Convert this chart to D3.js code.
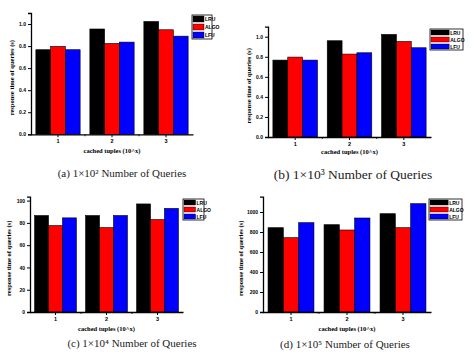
<!DOCTYPE html>
<html><head><meta charset="utf-8">
<script src="https://cdn.jsdelivr.net/npm/d3@7"></script>
<style>body{margin:0;background:#fff}svg{display:block}</style>
</head><body>
<svg id="c" width="474" height="357"></svg>
<script>
const categories = ["1", "2", "3"];
const seriesNames = ["LRU", "ALGO", "LFU"];
const colors = ["#000000", "#ff0000", "#0000ff"];
// values per panel: [series][category]
const valuesA = [[0.767, 0.955, 1.023], [0.797, 0.824, 0.948], [0.767, 0.836, 0.89]];
const valuesB = [[0.767, 0.96, 1.023], [0.797, 0.827, 0.953], [0.767, 0.84, 0.89]];
const valuesC = [[86.6, 86.6, 97], [77.6, 75.8, 83], [84.5, 86.6, 93]];
const valuesD = [[843, 873, 983], [743, 820, 843], [893, 940, 1083]];
const ticksA = [0, 0.2, 0.4, 0.6, 0.8, 1.0];
const ticksC = [0, 20, 40, 60, 80, 100];
const ticksD = [0, 200, 400, 600, 800, 1000];
const captions = ["(a) 1\u00d710\u00b2 Number of Queries", "(b) 1\u00d710\u00b3 Number of Queries",
                  "(c) 1\u00d710\u2074 Number of Queries", "(d) 1\u00d710\u2075 Number of Queries"];
const yLabel = "response time of queries (s)";
const xLabel = "cached tuples (10^x)";

const svg = d3.select("#c");

const panels = [
  {vals: valuesA, ticks: ticksA, fmt: d3.format(".1f"), max: 1.1, x0: 31, x1: 193, yT: 13, yB: 134.3,
   leg: [192, 15, 20, 24], ylx: 14, xly: 153, cap: captions[0], capx: 122, capy: 177, capfs: 11},
  {vals: valuesB, ticks: ticksA, fmt: d3.format(".1f"), max: 1.1, x0: 268, x1: 431, yT: 26.7, yB: 137,
   leg: [430, 29, 33, 21], ylx: 251, xly: 154, cap: captions[1], capx: 353, capy: 179, capfs: 13.5},
  {vals: valuesC, ticks: ticksC, fmt: d3.format("d"), max: 103.5, x0: 30, x1: 183, yT: 196.7, yB: 312,
   leg: [183, 199, 21, 21], ylx: 11, xly: 331, cap: captions[2], capx: 132, capy: 347, capfs: 11},
  {vals: valuesD, ticks: ticksD, fmt: d3.format("d"), max: 1153, x0: 263, x1: 431, yT: 196.7, yB: 312,
   leg: [429, 199, 33, 21], ylx: 243, xly: 331, cap: captions[3], capx: 345, capy: 348, capfs: 11}
];

panels.forEach(p => {
  const g = svg.append("g");
  const x = d3.scaleBand().domain(categories).range([p.x0, p.x1]).paddingInner(0.18).paddingOuter(0.09);
  const xs = d3.scaleBand().domain(seriesNames).range([0, x.bandwidth()]);
  const y = d3.scaleLinear().domain([0, p.max]).range([p.yB, p.yT]);

  // bars
  seriesNames.forEach((s, si) => {
    g.selectAll(null).data(categories).enter().append("rect")
      .attr("x", c => x(c) + xs(s))
      .attr("y", (c, ci) => y(p.vals[si][ci]))
      .attr("width", xs.bandwidth())
      .attr("height", (c, ci) => y(0) - y(p.vals[si][ci]))
      .attr("fill", colors[si])
      .attr("stroke", "#000").attr("stroke-width", 0.6);
  });

  // y axis
  const ya = g.append("g").attr("transform", `translate(${p.x0},0)`)
    .call(d3.axisLeft(y).tickValues(p.ticks).tickFormat(p.fmt).tickSize(3).tickPadding(2));
  ya.select(".domain").attr("stroke-width", 1.3);
  ya.selectAll("line").attr("stroke-width", 1);
  ya.selectAll("text").attr("font-family", "Liberation Sans, Arial").attr("font-size", 5).attr("font-weight", "bold");

  // x axis
  const xa = g.append("g").attr("transform", `translate(0,${p.yB})`)
    .call(d3.axisBottom(x).tickSize(3).tickPadding(2).tickSizeOuter(0));
  xa.select(".domain").attr("stroke-width", 1.3);
  xa.selectAll("text").attr("font-family", "Liberation Sans, Arial").attr("font-size", 5.5).attr("font-weight", "bold");
  // minor ticks at band boundaries
  const bounds = categories.slice(1).map(c => x(c) - x.step() * x.paddingInner() / 2);
  xa.selectAll(null).data(bounds).enter().append("line")
    .attr("x1", d => d).attr("x2", d => d).attr("y1", 0).attr("y2", 2)
    .attr("stroke", "#000").attr("stroke-width", 0.8);

  // axis labels
  g.append("text").attr("x", (p.x0 + p.x1) / 2).attr("y", p.xly)
    .attr("text-anchor", "middle").attr("font-family", "Liberation Serif, Times New Roman")
    .attr("font-size", 6.5).attr("font-weight", "bold").text(xLabel);
  g.append("text").attr("transform", `translate(${p.ylx},${(p.yT + p.yB) / 2 + 4}) rotate(-90)`)
    .attr("text-anchor", "middle").attr("font-family", "Liberation Serif, Times New Roman")
    .attr("font-size", 6.5).attr("font-weight", "bold").text(yLabel);

  // legend
  const [lx, ly, lw, lh] = p.leg;
  const lg = g.append("g");
  lg.append("rect").attr("x", lx).attr("y", ly).attr("width", lw).attr("height", lh)
    .attr("fill", "#fff").attr("stroke", "#000").attr("stroke-width", 0.8);
  const rowH = lh / 3;
  seriesNames.forEach((s, si) => {
    lg.append("rect").attr("x", lx + 1).attr("y", ly + si * rowH + 1)
      .attr("width", lw * 0.55).attr("height", rowH - 2)
      .attr("fill", colors[si]).attr("stroke", "#000").attr("stroke-width", 0.4);
    lg.append("text").attr("x", lx + lw * 0.55 + 2).attr("y", ly + si * rowH + rowH / 2 + 2)
      .attr("font-family", "Liberation Sans, Arial").attr("font-size", 5).attr("font-weight", "bold")
      .text(s);
  });

  // caption
  g.append("text").attr("x", p.capx).attr("y", p.capy).attr("text-anchor", "middle")
    .attr("font-family", "Liberation Serif, Times New Roman").attr("font-size", p.capfs)
    .attr("fill", "#222").text(p.cap);
});
</script>
</body></html>
